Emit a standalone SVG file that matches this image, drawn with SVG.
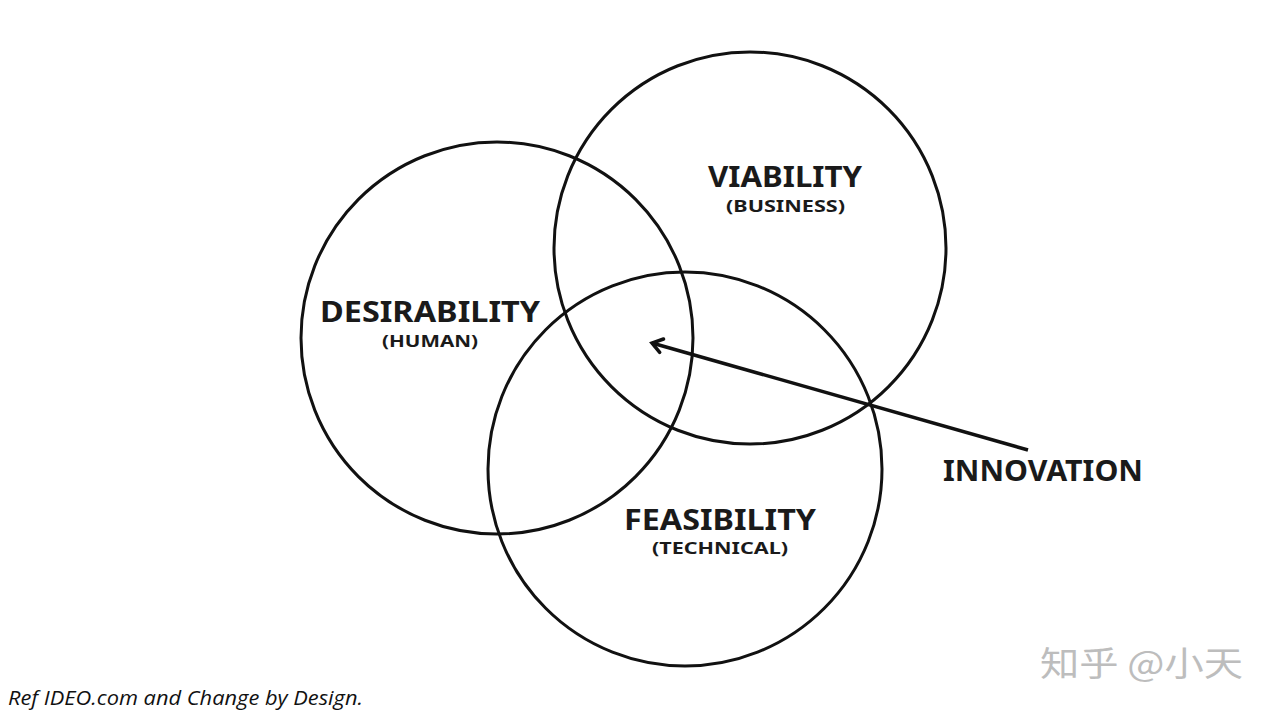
<svg xmlns="http://www.w3.org/2000/svg" width="1275" height="714" viewBox="0 0 1275 714">
<style>
.c{fill:none;stroke:#111;stroke-width:3}
.t{font-family:"Noto Sans","Liberation Sans",sans-serif;font-weight:bold;fill:#1a1a1a}
.big{font-size:29px}
.small{font-size:16px}
</style>
<defs>
<marker id="ah" markerWidth="20" markerHeight="20" refX="14" refY="10" orient="auto" markerUnits="userSpaceOnUse">
<path d="M4,3 L14,10 L4,17" fill="none" stroke="#111" stroke-width="3.5" stroke-linejoin="miter" stroke-linecap="round"/>
</marker>
</defs>
<rect width="1275" height="714" fill="#fff"/>
<g id="desirability">
<circle class="c" cx="497" cy="338" r="196"/>
<text class="t big" x="320" y="322" textLength="220" lengthAdjust="spacingAndGlyphs">DESIRABILITY</text>
<text class="t small" x="382" y="347" textLength="96" lengthAdjust="spacingAndGlyphs">(HUMAN)</text>
</g>
<g id="viability">
<circle class="c" cx="750" cy="248" r="196"/>
<text class="t big" x="708" y="187" textLength="154" lengthAdjust="spacingAndGlyphs">VIABILITY</text>
<text class="t small" x="726" y="212" textLength="119" lengthAdjust="spacingAndGlyphs">(BUSINESS)</text>
</g>
<g id="feasibility">
<circle class="c" cx="685" cy="469" r="197"/>
<text class="t big" x="624" y="530" textLength="192" lengthAdjust="spacingAndGlyphs">FEASIBILITY</text>
<text class="t small" x="652" y="554" textLength="136" lengthAdjust="spacingAndGlyphs">(TECHNICAL)</text>
</g>
<g id="connectors">
<line x1="1028" y1="450" x2="652" y2="343" stroke="#111" stroke-width="3.5" marker-end="url(#ah)"/>
</g>
<g id="innovation">
<text class="t big" x="943" y="481" textLength="200" lengthAdjust="spacingAndGlyphs">INNOVATION</text>
</g>
<text x="8" y="705" font-family="'Open Sans','Liberation Sans',sans-serif" font-style="italic" font-size="20" fill="#111" textLength="355" lengthAdjust="spacingAndGlyphs">Ref IDEO.com and Change by Design.</text>
<text x="1040" y="676" font-family="'Noto Sans CJK SC',sans-serif" font-size="34" fill="#bdbdbd" textLength="203" lengthAdjust="spacingAndGlyphs">知乎 @小天</text>
</svg>
